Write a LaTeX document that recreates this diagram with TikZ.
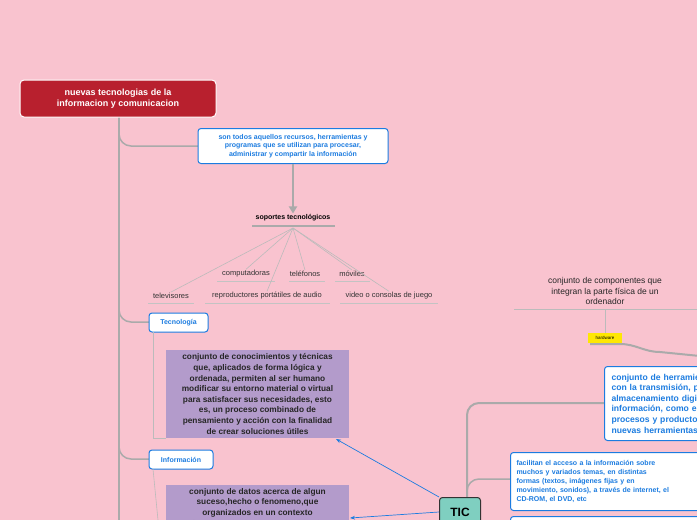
\documentclass[tikz,border=0pt]{standalone}
\usepackage{fontspec}
\setmainfont{Liberation Sans}
\usetikzlibrary{arrows.meta}
\definecolor{bg}{HTML}{F9C3CF}
\definecolor{tr}{HTML}{AAAAAA}
\definecolor{bl}{HTML}{1C7CE0}
\definecolor{pu}{HTML}{B39BCB}
\definecolor{rd}{HTML}{B8202E}
\definecolor{tc}{HTML}{7FCFC0}
\begin{document}
\begin{tikzpicture}[x=1pt,y=-1pt,
 trunk/.style={draw=tr,line width=2.5pt,rounded corners=12pt},
 thin/.style={draw=tr!80,line width=0.6pt},
 bbox/.style={draw=bl,fill=white,line width=1pt,rounded corners=3pt,text=bl,font=\bfseries\fontsize{7}{8.5}\selectfont,align=center},
 pbox/.style={fill=pu,text=black!85,font=\bfseries\fontsize{8.3}{10.6}\selectfont,align=center,inner sep=3pt},
 leaf/.style={font=\fontsize{7.5}{9}\selectfont,text=black!80,inner sep=1pt},
 ul/.style={draw=tr!70,line width=1pt},
 arr/.style={draw=bl,line width=0.7pt,-{Stealth[length=5pt]}}]
\useasboundingbox[fill=bg] (0,0) rectangle (697,520);
% trunk
\draw[trunk] (119,117) -- (119,530);
\draw[trunk,line width=1.5pt] (119,118) |- (198,146);
\draw[trunk,line width=1.5pt] (119,300) |- (149,322);
\draw[trunk,line width=1.5pt] (119,430) |- (149,459);
% title
\node[fill=rd,draw=white,line width=1pt,rounded corners=4pt,text=white,font=\bfseries\fontsize{9}{11}\selectfont,align=center,minimum width=196pt,minimum height=37pt] (title) at (118,98.5) {nuevas tecnologias de la\\informacion y comunicacion};
% definition
\node[bbox,minimum width=190pt,minimum height=35pt] (def) at (293,146) {son todos aquellos recursos, herramientas y\\programas que se utilizan para procesar,\\administrar y compartir la información};
\node[font=\bfseries\fontsize{7}{8}\selectfont,inner sep=1pt] (sop) at (293,218) {soportes tecnológicos};
\draw[draw=tr,line width=2pt,-{Triangle[length=7pt,width=8pt]}] (def.south) -- (sop.north);
\draw[draw=tr,line width=2.5pt] (252,226) -- (335,226);
% leaves
\node[leaf] (comp) at (246,274) {computadoras};
\node[leaf] (tel) at (305,274) {teléfonos};
\node[leaf] (mov) at (352,274) {móviles};
\node[leaf] (tv) at (171,296) {televisores};
\node[leaf] (rep) at (267,296) {reproductores portátiles de audio};
\node[leaf] (vid) at (389,296) {video o consolas de juego};
\foreach \a/\b/\y in {217/275/281,289/325/281,335/370/281,148/194/303,205/330/303,340/438/303}
 \draw[ul] (\a,\y) -- (\b,\y);
\foreach \n in {comp,tel,mov,tv,rep,vid}
 \draw[thin] (293,228) -- (\n.north);
% Tecnologia
\node[bbox,minimum width=59pt,minimum height=19pt] (tec) at (178.5,322.5) {Tecnología};
\node[pbox,minimum width=183pt,minimum height=88pt] (p1) at (257.5,394) {conjunto de conocimientos y técnicas\\que, aplicados de forma lógica y\\ordenada, permiten al ser humano\\modificar su entorno material o virtual\\para satisfacer sus necesidades, esto\\es, un proceso combinado de\\pensamiento y acción con la finalidad\\de crear soluciones útiles};
\draw[thin] (153,332) |- (166,438);
% Informacion
\node[bbox,minimum width=64pt,minimum height=19pt] (inf) at (181,459.5) {Información};
\node[pbox,minimum width=183pt,anchor=north] (p2) at (257.5,485) {conjunto de datos acerca de algun\\suceso,hecho o fenomeno,que\\organizados en un contexto\\determinado tienen su significado};
\draw[thin] (153,469) -- (158,520);
% right side
\node[font=\fontsize{8.5}{10.5}\selectfont,align=center,text=black!85] (comps) at (605,291) {conjunto de componentes que\\integran la parte física de un\\ordenador};
\draw[thin] (514,309) -- (697,309);
\node[fill=yellow!90!orange,font=\fontsize{4.5}{5}\selectfont,inner sep=2pt,minimum width=34pt,minimum height=10pt] (hw) at (605,338) {hardware};
\draw[thin] (605,309) -- (hw.north);
\draw[draw=tr,line width=2pt] (590,344) -- (620,344) to[out=0,in=180] (660,352) -- (700,356);
\draw[trunk,line width=2pt] (467,520) |- (604,403);
\draw[trunk,line width=1.5pt] (467,500) |- (510,479);
\node[bbox,anchor=north west,align=left,font=\bfseries\fontsize{8.6}{10.6}\selectfont,minimum height=74pt,text width=190pt,inner xsep=7pt] (big) at (604,366) {conjunto de herramientas relacionadas\\con la transmisión, procesamiento y\\almacenamiento digitalizado de la\\información, como el conjunto de\\procesos y productos derivados de las\\nuevas herramientas};
\node[bbox,anchor=north west,align=left,font=\bfseries\fontsize{7}{8.8}\selectfont,text width=180pt,inner xsep=6pt,minimum height=58pt] (fac) at (510,452) {facilitan el acceso a la información sobre\\muchos y variados temas, en distintas\\formas (textos, imágenes fijas y en\\movimiento, sonidos), a través de internet, el\\CD-ROM, el DVD, etc};
\node[bbox,anchor=north west,minimum width=190pt,minimum height=20pt] (b3) at (510,516) {};
\node[draw=black!80,fill=tc,line width=1pt,rounded corners=3pt,font=\bfseries\fontsize{12}{14}\selectfont,minimum width=41pt,minimum height=30pt,anchor=north west] (tic) at (439,497) {TIC};
\draw[arr] (tic.north west) -- (336,439);
\draw[arr] (439,512) -- (350,518);
\end{tikzpicture}
\end{document}
